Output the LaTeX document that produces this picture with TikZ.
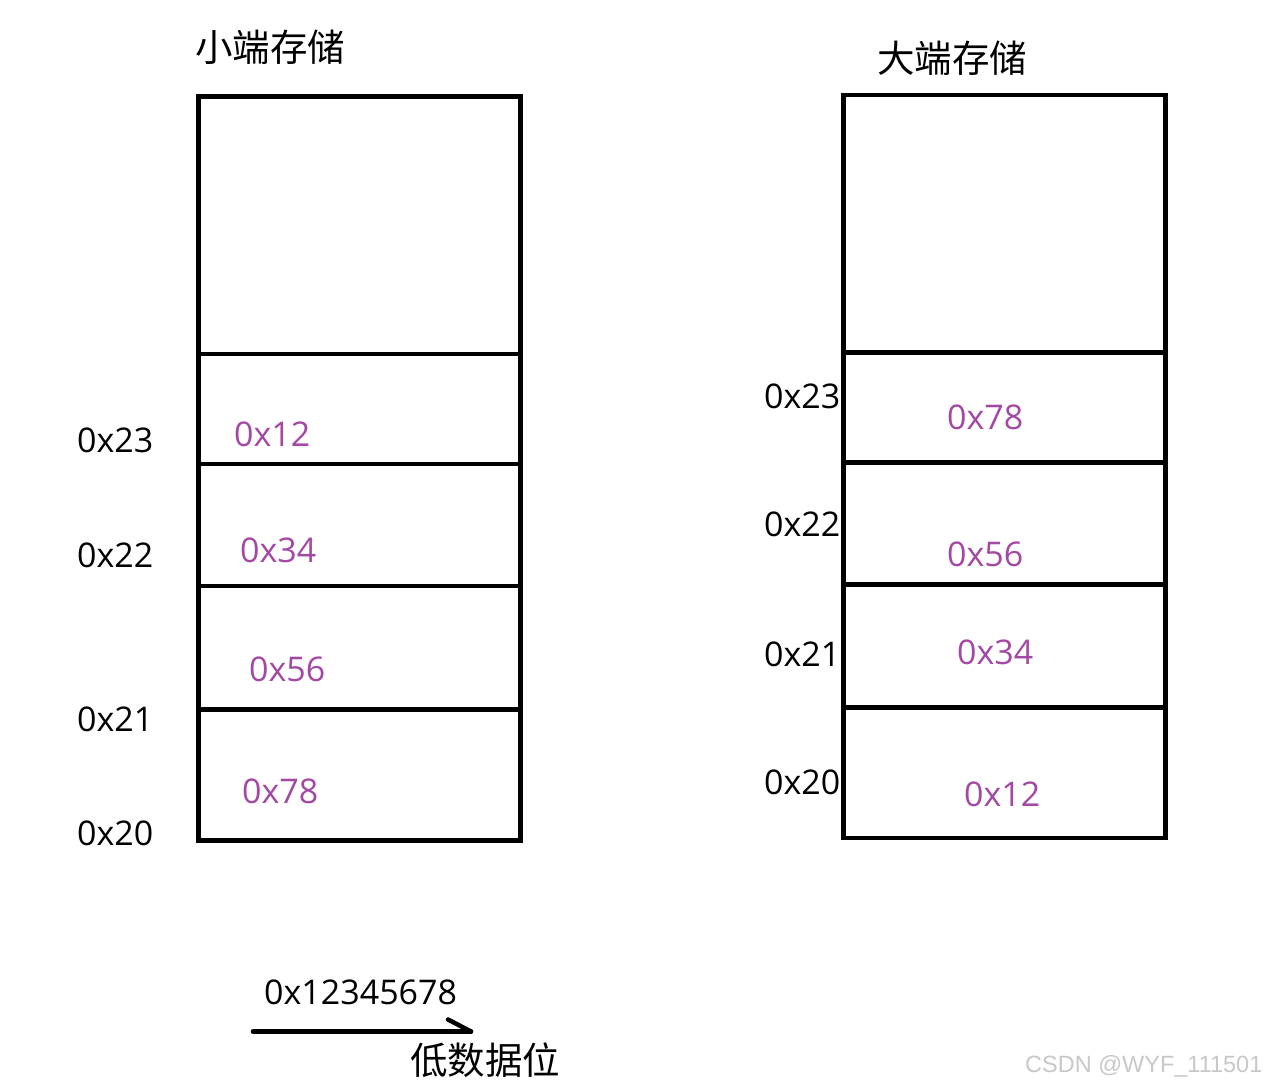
\documentclass[tikz,border=0pt]{standalone}
\usepackage{fontspec}
\setmainfont{Open Sans}
\newfontfamily\cjk{Noto Sans CJK SC}
\newfontfamily\wmfont{Liberation Sans}
\definecolor{mspurple}{RGB}{163,73,164}
\definecolor{wmgray}{RGB}{200,200,200}
\begin{document}
\begin{tikzpicture}[x=1pt,y=-1pt,
  cell/.style={draw=black,line width=4.5pt},
  sep/.style={draw=black,line width=4.5pt},
  addr/.style={anchor=west,inner sep=0pt,font=\fontsize{34}{37}\selectfont,text=black},
  val/.style={anchor=west,inner sep=0pt,font=\fontsize{34}{37}\selectfont,text=mspurple},
  title/.style={anchor=west,inner sep=0pt,font=\cjk\fontsize{37.5}{41}\selectfont},
  arrowline/.style={draw=black,line width=4.5pt,line cap=round}]
\useasboundingbox (0,0) rectangle (1266,1088);
\fill[white] (0,0) rectangle (1266,1088);

% little endian
\node[title] (t1) at (195,47) {小端存储};
\draw[cell] (198.5,96.5) rectangle (520.5,840.5);
\draw[sep] (196,354) -- (523,354);
\draw[sep] (198,464) -- (523,464);
\draw[sep] (198,586) -- (523,586);
\draw[sep] (198,709.5) -- (521,709.5);

\node[addr] (la3) at (77,440) {0x23};
\node[addr] (la2) at (77,555) {0x22};
\node[addr] (la1) at (77,719) {0x21};
\node[addr] (la0) at (77,833) {0x20};

\node[val] (lv3) at (234,434) {0x12};
\node[val] (lv2) at (240,550) {0x34};
\node[val] (lv1) at (249,669) {0x56};
\node[val] (lv0) at (242,791) {0x78};

% big endian
\node[title] (t2) at (877,58) {大端存储};
\draw[cell] (843.5,95) rectangle (1165.5,838);
\draw[sep] (841,352.5) -- (1168,352.5);
\draw[sep] (843,462.5) -- (1168,462.5);
\draw[sep] (843,584.5) -- (1168,584.5);
\draw[sep] (843,707.5) -- (1166,707.5);

\node[addr] (ra3) at (764,396) {0x23};
\node[addr] (ra2) at (764,524) {0x22};
\node[addr] (ra1) at (764,654) {0x21};
\node[addr] (ra0) at (764,782) {0x20};

\node[val] (rv3) at (947,417) {0x78};
\node[val] (rv2) at (947,554) {0x56};
\node[val] (rv1) at (957,652) {0x34};
\node[val] (rv0) at (964,794) {0x12};

% arrow
\node[addr] (num) at (264,992) {0x12345678};
\coordinate (as) at (253,1031.5);
\coordinate (ae) at (471,1031.5);
\coordinate (ab) at (448,1019.5);
\draw[arrowline] (as) -- (ae);
\draw[arrowline] (ab) -- (ae);
\node[title] (low) at (410,1060) {低数据位};

\node[anchor=west,inner sep=0pt,text=wmgray,font=\wmfont\fontsize{23.5}{26}\selectfont] (wm) at (1025,1066) {CSDN @WYF\_111501};
\end{tikzpicture}
\end{document}
